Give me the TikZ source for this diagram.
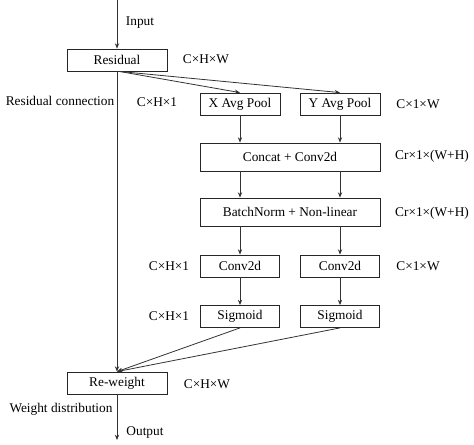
\documentclass[tikz,border=0pt]{standalone}
\usepackage{fontspec}
\setmainfont{Liberation Serif}
\usetikzlibrary{arrows.meta,calc}
\begin{document}
\begin{tikzpicture}[x=0.75pt,y=-0.75pt,
  font=\fontsize{10}{12}\selectfont,
  box/.style={draw=black!85, line width=0.6pt, fill=white, inner sep=0pt, minimum height=16.5pt, text=black},
  lab/.style={inner sep=0pt, text=black},
  arr/.style={draw=black!80, line width=0.6pt, -{Stealth[length=4pt,width=3.2pt]}},
  ln/.style={draw=black!80, line width=0.6pt}]
\useasboundingbox (0,0) rectangle (474,445);
% boxes
\node[box, minimum width=75pt] (res) at (117,60) {Residual};
\node[box, minimum width=60pt] (xa) at (240,104) {X Avg Pool};
\node[box, minimum width=60pt] (ya) at (340,104) {Y Avg Pool};
\node[box, minimum width=135pt, minimum height=21pt] (cc) at (290,157) {Concat + Conv2d};
\node[box, minimum width=135pt, minimum height=21pt] (bn) at (290,212) {BatchNorm + Non-linear};
\node[box, minimum width=59pt] (cl) at (240,266) {Conv2d};
\node[box, minimum width=59pt] (cr) at (340,266) {Conv2d};
\node[box, minimum width=59pt] (sl) at (240,316.5) {Sigmoid};
\node[box, minimum width=59pt] (sr) at (340,316.5) {Sigmoid};
\node[box, minimum width=75pt] (rw) at (117,383) {Re-weight};
% labels
\node[lab] (tin) at (140,23) {Input};
\node[lab] (tout) at (145,433) {Output};
\node[lab] (trc) at (60,101) {Residual connection};
\node[lab] (twd) at (61,409) {Weight distribution};
\node[lab] (l1) at (206,59) {C×H×W};
\node[lab] (l2) at (157,102) {C×H×1};
\node[lab] (l3) at (418,104) {C×1×W};
\node[lab] (l4) at (432,156) {Cr×1×(W+H)};
\node[lab] (l5) at (432,213) {Cr×1×(W+H)};
\node[lab] (l6) at (169,266) {C×H×1};
\node[lab] (l7) at (418,266) {C×1×W};
\node[lab] (l8) at (169,316) {C×H×1};
\node[lab] (l9) at (207,384) {C×H×W};
% connectors
\coordinate (top) at (117,0);
\coordinate (bot) at (117,440);
\draw[arr] (top) -- (res.north);
\draw[arr] (res.south) -- (rw.north);
\draw[arr] ($(res.south)+(2,0)$) -- (xa.north);
\draw[arr] ($(res.south)+(2,0)$) -- (ya.north);
\draw[arr] (xa.south) -- (xa.south |- cc.north);
\draw[arr] (ya.south) -- (ya.south |- cc.north);
\draw[arr] (cc.south -| xa.south) -- (bn.north -| xa.south);
\draw[arr] (cc.south -| ya.south) -- (bn.north -| ya.south);
\draw[arr] (bn.south -| cl.north) -- (cl.north);
\draw[arr] (bn.south -| cr.north) -- (cr.north);
\draw[arr] (cl.south) -- (sl.north);
\draw[arr] (cr.south) -- (sr.north);
\draw[arr] (sl.south) -- (rw.north);
\draw[arr] (sr.south) -- (rw.north);
\draw[arr] (rw.south) -- (bot);
\end{tikzpicture}
\end{document}
